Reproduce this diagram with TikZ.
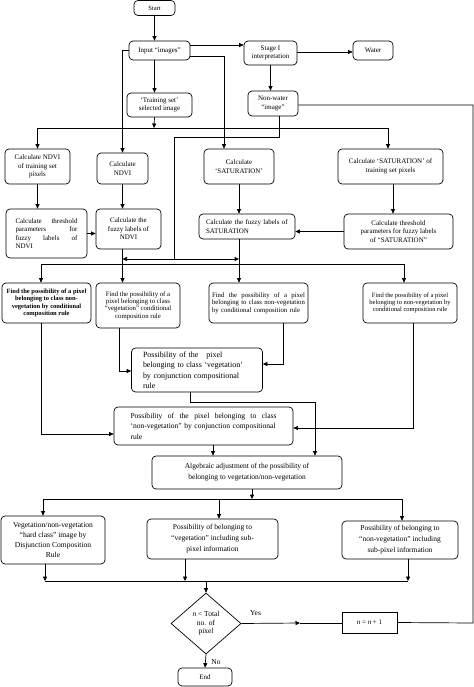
\documentclass[tikz,border=0pt]{standalone}
\usepackage{fontspec}
\setmainfont{Liberation Serif}
\usetikzlibrary{arrows.meta,shapes.geometric}
\newcommand{\fz}[2]{\fontsize{#1}{#2}\selectfont}
\begin{document}
\begin{tikzpicture}[x=1bp,y=-1bp,
  >={Triangle[length=4.5bp,width=4bp]},
  every path/.style={line width=0.7pt},
  bx/.style 2 args={draw, line width=0.7pt, rounded corners=4bp, minimum width=#1bp, minimum height=#2bp, inner sep=1bp, align=center, font=\fz{7}{8.5}},
  plainbox/.style={draw, line width=0.7pt, inner sep=1bp, font=\fz{7}{8.5}},
  decision/.style={draw, line width=0.7pt, shape=diamond, inner sep=0pt, align=center, font=\fz{7.5}{8.5}},
  lbl/.style={font=\fz{7.5}{9}, inner sep=0pt},
  findtxt/.style={font=\fz{6.8}{7.4}}]
\fill[white] (0,0) rectangle (474,687);
\useasboundingbox (0,0) rectangle (474,687);

% ---------- nodes ----------
\node[bx={41}{15}, font=\fz{6.5}{8}] (start) at (154.5,8) {Start};
\node[bx={61}{19}] (input) at (159.5,50.5) {Input “images”};
\node[bx={53}{24}] (stage) at (270.5,53) {Stage I\\interpretation};
\node[bx={40}{19}] (water) at (373,50.5) {Water};
\node[bx={65}{24}] (train) at (159.5,105) {‘Training set’\\selected image};
\node[bx={50}{25}] (nonwater) at (273,103.5) {Non-water\\“image”};

\node[bx={65}{35}] (ndvitr) at (37.5,166.5) {Calculate NDVI\\of training set\\pixels};
\node[bx={51}{31}] (ndvi) at (122.5,168.5) {Calculate\\NDVI};
\node[bx={70}{35}] (sat) at (239,166.5) {Calculate\\‘SATURATION’};
\node[bx={105}{35}] (sattr) at (390.5,166.5) {Calculate ‘SATURATION’ of\\training set pixels};

\node[bx={81}{49}, align=left, text width=62bp] (ndvith) at (46.5,233.5) {Calculate\hfill threshold\\parameters\hfill for\\fuzzy\hfill labels\hfill of\\NDVI};
\node[bx={65}{40}] (ndvifz) at (128.5,229) {Calculate the\\fuzzy labels of\\NDVI};
\node[bx={96}{25}, align=left, text width=82bp] (satfz) at (247,226.5) {Calculate the fuzzy labels of\\SATURATION};
\node[bx={109}{35}] (satth) at (398.5,231.5) {Calculate threshold\\parameters for fuzzy labels\\of “SATURATION”};

\node[bx={89}{40}, font=\bfseries\fz{6.5}{7.4}] (f1) at (46.5,303) {Find the possibility of a pixel\\belonging to class non-\\vegetation by conditional\\composition rule};
\node[bx={84}{45}, findtxt] (f2) at (138,305.5) {Find the possibility of a\\pixel belonging to class\\“vegetation” conditional\\composition rule};
\node[bx={99}{40}, findtxt, align=left, text width=93bp] (f3) at (258.5,303) {Find\hfill the\hfill possibility\hfill of\hfill a\hfill pixel\\belonging to class non-vegetation\\by conditional composition rule};
\node[bx={94}{40}, font=\fz{6.5}{7.3}] (f4) at (410,303) {Find the possibility of a pixel\\belonging to non-vegetation by\\conditional composition rule};

\node[bx={131}{44}, font=\fz{8}{10.5}, align=left, text width=108bp] (pveg) at (197,370) {Possibility of the\quad pixel\\belonging to class ‘vegetation’\\by conjunction compositional\\rule};
\node[bx={179}{38}, font=\fz{7.6}{10.5}, align=left, text width=146bp] (pnon) at (203.5,426) {Possibility\hfill of\hfill the\hfill pixel\hfill belonging\hfill to\hfill class\\‘non-vegetation” by conjunction compositional\\rule};
\node[bx={190}{33}, font=\fz{7.5}{11}] (alg) at (247,472.5) {Algebraic adjustment of the possibility of\\belonging to vegetation/non-vegetation};

\node[bx={104}{48}, font=\fz{7.6}{10}] (hard) at (53,540) {Vegetation/non-vegetation\\“hard class” image by\\Disjunction Composition\\Rule};
\node[bx={131}{40}, font=\fz{7.5}{11}] (vsub) at (212.5,539) {Possibility of belonging to\\“vegetation” including sub-\\pixel information};
\node[bx={116}{38}, font=\fz{7.5}{11}] (nsub) at (400,540) {Possibility of belonging to\\“non-vegetation” including\\sub-pixel information};

\node[decision, minimum width=70bp, minimum height=61bp] (dia) at (206,623.5) {\textit{n} < Total\\no. of\\pixel};
\node[plainbox, minimum width=55bp, minimum height=21bp] (nn) at (369.5,622.5) {\textit{n} = \textit{n} + 1};
\node[bx={54}{18}] (end) at (205,677) {End};
\node[lbl] (yes) at (255.5,613) {Yes};
\node[lbl] (no) at (216,662) {No};

% ---------- helper coordinates ----------
\coordinate (tD) at (154,128);
\coordinate (nwA) at (279,137);
\coordinate (nwB) at (174,137);
\coordinate (nwC) at (174,259);
\coordinate (dA) at (41,264);
\coordinate (dB) at (404,264);
\coordinate (pv1) at (315,402);
\coordinate (aA) at (43,499);
\coordinate (aM) at (252,499);
\coordinate (aV) at (219,499);
\coordinate (aB) at (402,499);
\coordinate (mA) at (45,581);
\coordinate (mV) at (185,581);
\coordinate (mM) at (206,581);
\coordinate (mB) at (408,581);
\coordinate (ym) at (300,623);
\coordinate (lp1) at (473,623);
\coordinate (lp2) at (473,105);

% ---------- connectors ----------
\draw[->] (start.south) -- (start.south |- input.north);
\draw[->] (start.south |- input.south) -- (start.south |- train.north);
\draw[->] ([yshift=5.5bp]input.east) -- ([yshift=5.5bp]input.east -| stage.west);
\draw[->] ([yshift=1bp]stage.east) -- ([yshift=1bp]stage.east -| water.west);
\draw[->] (stage.south) -- (stage.south |- nonwater.north);
\draw[->] (input.west) -| (ndvi.north);
\draw[->] ([yshift=-5.5bp]input.east) -| ([xshift=-15bp]sat.north);

\draw[->] (start.south |- train.south) -- (tD);
\draw[->] (tD) -| (ndvitr.north);
\draw[->] (tD) -| ([xshift=-2.5bp]sattr.north);

\draw (nwA |- nonwater.south) -- (nwA) -- (nwB) -- (nwC);
\draw[->] (nwC) -- (nwC -| ndvi.south);
\draw[->] (nwC) -- (nwC -| sat.south);

\draw[->] (ndvitr.south) -- (ndvitr.south |- ndvith.north);
\draw[->] (ndvi.south) -- (ndvi.south |- ndvifz.north);
\draw[->] (ndvith.east) -- (ndvith.east -| ndvifz.west);
\draw[->] (sat.south) -- (sat.south |- satfz.north);
\draw[->] ([xshift=2.5bp]sattr.south) -- ([xshift=2.5bp]sattr.south |- satth.north);
\draw[->] (satth.west) -- (satth.west -| satfz.east);

\draw[->] (ndvi.south |- ndvifz.south) -- (ndvi.south |- f2.north);
\draw[->] (sat.south |- satfz.south) -- (sat.south |- f3.north);
\draw (dA) -- (dB);
\draw[->] (dA) -- (dA |- f1.north);
\draw[->] (dB) -- (dB |- f4.north);

\draw[->] ([xshift=-19bp]f2.south) |- ([yshift=-1bp]pveg.west);
\draw[->] ([xshift=24.5bp]f3.south) |- ([yshift=6bp]pveg.east);
\draw[->] (dA |- f1.south) |- ([yshift=-8bp]pnon.west);
\draw[->] ([xshift=3bp]f4.south) |- ([yshift=-2bp]pnon.east);

\draw[->] ([xshift=-7bp]pveg.south) |- (pv1) -- (pv1 |- alg.north);
\draw[->] ([xshift=9.5bp]pnon.south) -- ([xshift=9.5bp]pnon.south |- alg.north);

\draw[->] (aM |- alg.south) -- (aM);
\draw (aA) -- (aB);
\draw[->] (aA) -- (aA |- hard.north);
\draw[->] (aV) -- (aV |- vsub.north);
\draw[->] (aB) -- (aB |- nsub.north);

\draw[->] (mA |- hard.south) -- (mA);
\draw[->] (mV |- vsub.south) -- (mV);
\draw[->] (mB |- nsub.south) -- (mB);
\draw (mA) -- (mB);
\draw[->] (mM) -- (dia.north);

\draw[->] (dia.east) -- (ym);
\draw (ym) -- (ym -| nn.west);
\draw[->] (dia.south) -- (end.north);
\draw (nn.east) -- (lp1) -- (lp2) -- (lp2 -| nonwater.east);
\end{tikzpicture}
\end{document}
